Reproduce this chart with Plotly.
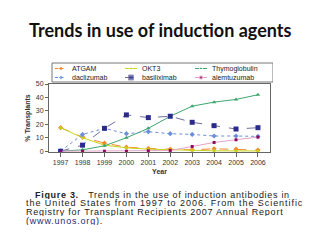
import plotly.graph_objects as go

years = [1997, 1998, 1999, 2000, 2001, 2002, 2003, 2004, 2005, 2006]
atgam = [17.5, 10.5, 6, 3, 2, 1.5, 1, 1.8, 1.5, 0.8]
okt3 = [17.5, 10, 4.5, 2.5, 1.5, 1, 0.5, 0.3, 0.2, 0.2]
thymo = [0, 1, 4, 10, 17, 26, 33.5, 36.5, 38.5, 42]
dacli = [0, 12.5, 17, 13, 14.5, 13, 12.5, 11.3, 11.3, 11]
basili = [0, 4.5, 17, 27, 25, 26, 21.5, 19, 16.5, 17.5]
alemtu = [0, 0, 0, 0, 0.3, 0.5, 3.5, 6.5, 8.5, 10.5]

series = [
    ("ATGAM", atgam, "#F0892A", "#F0892A", "dash", "diamond", 4),
    ("OKT3", okt3, "#C8D31A", "#C8D31A", "solid", "circle", 3),
    ("Thymoglobulin", thymo, "#3FA66E", "#3FA66E", "solid", "triangle-up", 4),
    ("daclizumab", dacli, "#6A8FD8", "#6A8FD8", "dot", "diamond", 4),
    ("basiliximab", basili, "#6E6EA0", "#2B2B8C", "dash", "square", 5),
    ("alemtuzumab", alemtu, "#E6A3C8", "#8E0A5E", "solid", "square", 3),
]

# pixel layout (320x240 canvas)
L, R, T, B = 49, 273, 60, 152       # paper region
PW, PH = R - L, B - T
PLOT_TOP, PLOT_RIGHT = 84, 270

fig = go.Figure()
for name, vals, lc, mc, dash, sym, ms in series:
    fig.add_trace(go.Scatter(
        x=years, y=vals, name=name, mode="lines+markers",
        line=dict(color=lc, width=1, dash=dash),
        marker=dict(color=mc, symbol=sym, size=ms),
        showlegend=False, xaxis="x", yaxis="y",
    ))

# custom compact legend (3 columns x 2 rows) drawn on an overlay pixel axis
col_x = [55, 125, 195]
row_y = [68.5, 77.5]
for i, (name, vals, lc, mc, dash, sym, ms) in enumerate(series):
    cx = col_x[i % 3]
    ry = row_y[i // 3]
    fig.add_trace(go.Scatter(
        x=[cx, cx + 6, cx + 12], y=[ry, ry, ry], mode="lines+markers",
        line=dict(color=lc, width=1, dash=dash),
        marker=dict(color=mc, symbol=sym, size=[0, ms, 0]),
        showlegend=False, hoverinfo="skip", xaxis="x2", yaxis="y2",
    ))
    fig.add_annotation(
        text=name, xref="x2", yref="y2", x=cx + 15, y=ry,
        xanchor="left", yanchor="middle", showarrow=False,
        font=dict(family="Liberation Sans", size=7, color="#222"),
    )

fig.add_shape(type="rect", xref="x2", yref="y2", x0=52, x1=273, y0=63, y1=82,
              line=dict(color="#777", width=1), fillcolor="rgba(0,0,0,0)")

fig.update_layout(
    width=320, height=240,
    margin=dict(l=L, r=320 - R, t=T, b=240 - B, autoexpand=False),
    paper_bgcolor="white", plot_bgcolor="rgba(0,0,0,0)",
    showlegend=False,
    xaxis=dict(
        domain=[0, (PLOT_RIGHT - L) / PW], anchor="y",
        range=[1996.47, 2006.55], tickvals=years,
        ticktext=[str(y) for y in years],
        showline=True, linecolor="#666", linewidth=1, mirror=True,
        ticks="outside", ticklen=4, tickcolor="#666",
        showgrid=False, zeroline=False,
        tickfont=dict(family="Liberation Sans", size=7, color="#333"),
        title=dict(text="<b>Year</b>", font=dict(family="Liberation Sans", size=7, color="#333"), standoff=3),
    ),
    yaxis=dict(
        domain=[0, (B - PLOT_TOP) / PH], anchor="x",
        range=[-0.6, 50], tickvals=[0, 10, 20, 30, 40, 50],
        showline=True, linecolor="#666", linewidth=1, mirror=True,
        ticks="outside", ticklen=3, tickcolor="#666",
        showgrid=False, zeroline=False,
        tickfont=dict(family="Liberation Sans", size=7, color="#333"),
        title=dict(text="<b>% Transplants</b>", font=dict(family="Liberation Sans", size=7, color="#333"), standoff=4),
    ),
    xaxis2=dict(domain=[0, 1], anchor="y2", range=[L, R], visible=False, fixedrange=True),
    yaxis2=dict(domain=[0, 1], anchor="x2", range=[B, T], visible=False, fixedrange=True),
    font=dict(family="Liberation Sans"),
)

fig.add_annotation(
    text="<b>Trends in use of induction agents</b>", xref="paper", yref="paper",
    x=(160 - L) / PW, y=(B - 30) / PH, xanchor="center", yanchor="middle", showarrow=False,
    font=dict(family="Lato", size=18, color="#111"),
)

caption = [
    (33, 194.5, "<b>Figure 3.</b>   Trends in the use of induction antibodies in", 0.7),
    (24, 203, "the United States from 1997 to 2006. From the Scientific", 0.95),
    (24, 211.5, "Registry for Transplant Recipients 2007 Annual Report", 0.76),
    (24, 220.5, '(<span style="fill:#1f2a7a">www.unos.org</span>).', 0.8),
]
for px, py, t, ls in caption:
    fig.add_annotation(
        text='<span style="letter-spacing:%.2fpx">%s</span>' % (ls, t),
        xref="paper", yref="paper",
        x=(px - L) / PW, y=(B - py) / PH,
        xanchor="left", yanchor="middle", showarrow=False, height=8,
        font=dict(family="Liberation Sans", size=9, color="#222"),
    )

fig.write_html("out.html")
